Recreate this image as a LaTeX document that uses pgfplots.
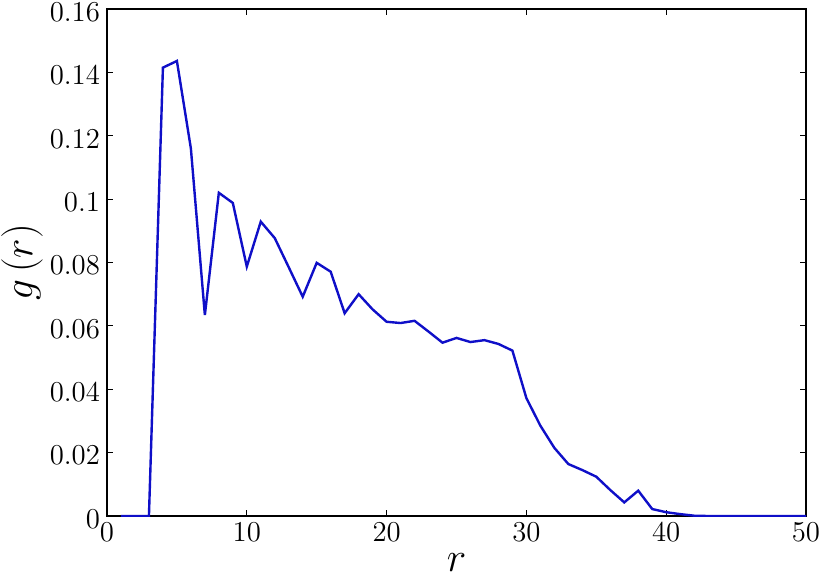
\documentclass[border=0pt]{standalone}
\usepackage{pgfplots}
\pgfplotsset{compat=1.18}
\definecolor{mblue}{RGB}{15,15,200}
\begin{document}
\begin{tikzpicture}
\begin{axis}[
    scale only axis,
    width=349.5pt,
    height=253.5pt,
    xmin=0, xmax=50,
    ymin=0, ymax=0.16,
    xtick={0,10,20,30,40,50},
    ytick={0,0.02,0.04,0.06,0.08,0.1,0.12,0.14,0.16},
    scaled y ticks=false,
    yticklabel style={/pgf/number format/fixed, /pgf/number format/precision=2, yshift=-1.5pt},
    tick label style={font=\fontsize{13.5}{16}\selectfont},
    label style={font=\fontsize{20}{24}\selectfont},
    xlabel={$r$},
    ylabel={$g\left(r\right)$},
    xlabel style={at={(axis description cs:0.5,0)}, anchor=center, yshift=-23.5pt},
    ylabel style={at={(axis description cs:0,0.5)}, anchor=center, yshift=42.5pt},
    tick align=inside,
    major tick length=3pt,
    axis line style={line width=0.6pt},
    every tick/.style={black, line width=0.5pt},
]
\addplot[mblue, line width=1.2pt] coordinates {
(1,0) (2,0) (3,0) (4,0.1415) (5,0.1436) (6,0.1160) (7,0.0634) (8,0.1020)
(9,0.0988) (10,0.0787) (11,0.0929) (12,0.0877) (13,0.0785) (14,0.0692)
(15,0.0799) (16,0.0771) (17,0.0640) (18,0.0700) (19,0.0652) (20,0.0613)
(21,0.0609) (22,0.0616) (23,0.0582) (24,0.0547) (25,0.0562) (26,0.0549)
(27,0.0555) (28,0.0543) (29,0.0522) (30,0.0372) (31,0.0285) (32,0.0215)
(33,0.0164) (34,0.0145) (35,0.0124) (36,0.0082) (37,0.0043) (38,0.0080)
(39,0.0022) (40,0.0012) (41,0.0006) (42,0.0001) (43,0) (44,0) (45,0)
(46,0) (47,0) (48,0) (49,0) (50,0)
};
\end{axis}
\pgfresetboundingbox
\useasboundingbox ([xshift=-53.5pt,yshift=-32pt]current axis.south west) rectangle ([xshift=7.5pt,yshift=4.5pt]current axis.north east);
\end{tikzpicture}
\end{document}
